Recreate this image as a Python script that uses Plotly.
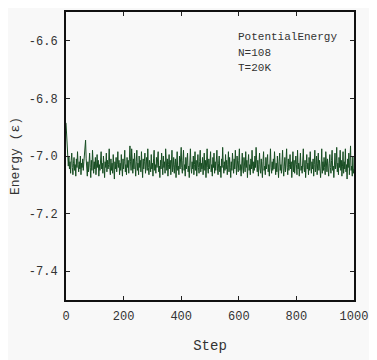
import plotly.graph_objects as go

steps = list(range(0, 1001, 2))
energy = [
    -6.885, -6.93, -6.98, -7.01, -7.035, -7.00, -7.045, -7.02, -7.06, -7.015,
    -6.99, -7.04, -7.065, -7.025, -7.005, -7.05, -7.03, -7.07, -7.01, -7.04,
    -6.985, -7.03, -7.055, -7.02, -7.045, -7.00, -7.065, -7.025, -7.04, -7.01,
    -7.05, -7.02, -6.99, -6.975, -6.945, -7.01, -7.045, -7.07, -7.02, -7.055,
    -7.025, -6.99, -7.04, -7.075, -7.015, -7.05, -6.98, -7.03, -7.06, -7.02,
    -7.045, -7.005, -7.065, -7.035, -6.995, -7.04, -7.015, -7.07, -7.03, -7.05,
    -7.01, -6.985, -7.045, -7.025, -7.06, -7.00, -7.035, -7.075, -7.02, -7.04,
    -6.99, -7.055, -7.015, -7.045, -7.03, -6.975, -7.04, -7.065, -7.01, -7.05,
    -7.025, -7.06, -6.995, -7.035, -7.08, -7.02, -7.045, -7.005, -7.055, -7.03,
    -6.985, -7.04, -7.015, -7.065, -7.025, -7.05, -6.995, -7.035, -7.07, -7.01,
    -7.045, -7.02, -6.98, -7.055, -7.03, -7.065, -7.005, -7.04, -7.015, -7.06,
    -6.97, -6.965, -7.02, -7.05, -6.975, -7.03, -7.06, -7.01, -7.045, -6.99,
    -7.035, -7.07, -7.02, -6.98, -7.05, -7.025, -7.065, -7.00, -7.04, -7.015,
    -7.055, -6.985, -7.035, -7.075, -7.01, -7.045, -7.02, -6.99, -7.06, -7.03,
    -7.005, -7.05, -6.975, -7.04, -7.065, -7.015, -7.035, -7.055, -6.995, -7.045,
    -7.025, -7.07, -7.01, -6.98, -7.05, -7.03, -7.06, -7.005, -7.04, -7.02,
    -6.985, -7.055, -7.035, -7.075, -7.015, -7.045, -6.99, -7.025, -7.065, -7.00,
    -7.04, -7.02, -7.06, -6.975, -7.035, -7.05, -7.01, -7.07, -7.03, -6.995,
    -7.045, -7.015, -7.065, -7.025, -6.98, -7.055, -7.04, -7.005, -7.06, -7.03,
    -7.01, -7.075, -7.02, -6.985, -7.05, -7.035, -7.065, -7.00, -7.045, -7.02,
    -6.97, -7.04, -7.06, -7.015, -6.98, -7.05, -7.03, -7.07, -7.005, -7.045,
    -7.025, -6.99, -7.055, -7.035, -7.075, -7.01, -6.975, -7.04, -7.06, -7.02,
    -7.045, -7.00, -7.065, -7.03, -6.985, -7.05, -7.015, -7.07, -7.035, -6.995,
    -7.04, -7.06, -7.02, -6.98, -7.055, -7.025, -7.045, -7.005, -7.065, -7.03,
    -6.99, -7.05, -7.015, -7.075, -7.035, -6.975, -7.04, -7.06, -7.01, -7.045,
    -7.025, -6.985, -7.055, -7.03, -7.07, -7.005, -7.04, -6.99, -7.06, -7.02,
    -7.05, -7.015, -6.98, -7.045, -7.065, -7.025, -7.00, -7.055, -7.035, -7.075,
    -7.01, -7.04, -6.97, -7.03, -7.06, -7.02, -7.05, -6.995, -7.045, -7.015,
    -7.065, -7.03, -6.985, -7.055, -7.005, -7.04, -7.075, -7.02, -7.05, -6.99,
    -7.035, -7.06, -7.01, -7.045, -6.98, -7.025, -7.065, -7.00, -7.04, -7.055,
    -7.015, -6.975, -7.05, -7.03, -7.07, -7.02, -6.99, -7.045, -7.06, -7.005,
    -7.035, -7.055, -6.985, -7.04, -7.015, -7.075, -7.025, -6.995, -7.05, -7.03,
    -7.065, -7.01, -7.045, -6.98, -7.035, -7.06, -7.02, -7.05, -7.00, -7.04,
    -6.97, -7.025, -7.055, -7.015, -7.07, -7.03, -6.99, -7.045, -7.06, -7.01,
    -7.04, -7.075, -7.02, -6.985, -7.05, -7.035, -7.065, -7.005, -7.045, -7.025,
    -6.995, -7.055, -7.03, -7.07, -7.015, -6.975, -7.04, -7.06, -7.02, -7.05,
    -7.01, -7.045, -6.985, -7.035, -7.065, -7.025, -7.055, -7.00, -7.04, -7.075,
    -7.02, -6.99, -7.05, -7.03, -7.06, -7.015, -6.98, -7.045, -7.07, -7.035,
    -7.005, -7.055, -7.025, -6.975, -7.04, -7.065, -7.01, -7.05, -7.03, -6.995,
    -7.045, -7.02, -7.075, -7.035, -6.985, -7.055, -7.015, -7.06, -7.04, -7.00,
    -7.03, -7.065, -6.98, -7.045, -7.025, -7.07, -7.01, -6.99, -7.05, -7.035,
    -7.06, -7.02, -6.975, -7.04, -7.055, -7.015, -7.075, -7.03, -6.995, -7.045,
    -7.025, -7.065, -7.005, -7.05, -6.985, -7.035, -7.06, -7.02, -7.045, -7.01,
    -7.07, -7.03, -6.98, -7.055, -7.04, -7.00, -7.065, -7.025, -6.99, -7.05,
    -7.015, -7.045, -7.075, -7.035, -6.975, -7.06, -7.02, -7.05, -7.005, -7.04,
    -7.065, -6.985, -7.03, -7.055, -7.01, -7.045, -7.07, -7.025, -6.995, -7.04,
    -7.06, -7.015, -6.98, -7.05, -7.035, -7.075, -7.02, -6.99, -7.045, -7.03,
    -6.97, -7.055, -7.025, -7.065, -7.005, -7.04, -6.98, -7.05, -7.015, -7.07,
    -7.035, -6.985, -7.06, -7.02, -7.045, -6.975, -7.055, -7.03, -7.08, -7.01,
    -7.04, -6.99, -7.065, -7.025, -6.965, -7.05, -7.035, -7.07, -7.00, -7.06,
    -7.045,
]

x_ticks = [0, 200, 400, 600, 800, 1000]
y_ticks = [-6.6, -6.8, -7.0, -7.2, -7.4]
y_ticktext = ["-6.6", "-6.8", "-7.0", "-7.2", "-7.4"]
annotation_lines = ["PotentialEnergy", "N=108", "T=20K"]
annotation_y = [0.913, 0.858, 0.806]

font_family = "Liberation Mono, Courier New, monospace"

fig = go.Figure()
fig.add_trace(go.Scatter(
    x=steps, y=energy, mode="lines",
    line=dict(color="#174d22", width=1),
    showlegend=False,
))

fig.update_layout(
    width=369, height=352,
    margin=dict(l=58, r=23, t=4, b=60),
    paper_bgcolor="#f8f8f8",
    plot_bgcolor="#f8f8f8",
    font=dict(family=font_family, size=12, color="#333333"),
    xaxis=dict(
        range=[0, 1000], tickvals=x_ticks, ticks="inside", ticklen=4,
        tickcolor="#222", showline=True, linecolor="#111", linewidth=2,
        mirror="ticks", showgrid=False, zeroline=False, automargin=False,
        ticklabelstandoff=4,
        title=dict(text="Step", font=dict(size=14), standoff=17),
    ),
    yaxis=dict(
        range=[-7.5, -6.5], tickvals=y_ticks, ticktext=y_ticktext,
        ticks="inside", ticklen=4, tickcolor="#222",
        showline=True, linecolor="#111", linewidth=2,
        mirror="ticks", showgrid=False, zeroline=False, automargin=False,
        ticklabelstandoff=4,
        title=dict(text="Energy (ε)", font=dict(size=13), standoff=14),
    ),
    annotations=[
        dict(
            x=0.592, y=yv, xref="paper", yref="paper",
            xanchor="left", yanchor="middle", align="left", showarrow=False,
            text=line,
            font=dict(size=11, color="#333333", family=font_family),
        )
        for line, yv in zip(annotation_lines, annotation_y)
    ],
)

fig.write_html("out.html")
